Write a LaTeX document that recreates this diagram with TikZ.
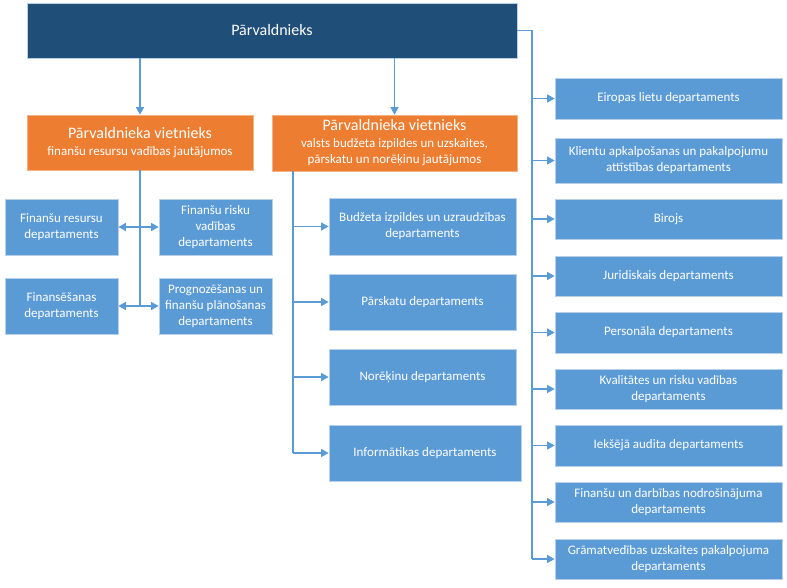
\documentclass[tikz,border=0pt]{standalone}
\usepackage{fontspec}
\setmainfont{Carlito}
\usetikzlibrary{arrows.meta}
\definecolor{dblue}{HTML}{1F4E79}
\definecolor{orng}{HTML}{ED7D31}
\definecolor{mblue}{HTML}{5B9BD5}
\definecolor{bedge}{HTML}{B9D0EA}
\definecolor{oedge}{HTML}{F4B183}
\tikzset{
  box/.style={rectangle, draw=bedge, line width=0.7pt, fill=mblue, text=white,
    align=center, inner sep=2pt, font=\fontsize{13}{16}\selectfont},
  obox/.style={box, fill=orng, draw=oedge, font=\fontsize{13}{16.5}\selectfont},
  tbox/.style={box, fill=dblue, draw=bedge, font=\fontsize{16}{18}\selectfont},
  conn/.style={draw=mblue, line width=1.3pt},
  arr/.style={conn, -{Triangle[length=7.5pt,width=8pt]}},
  darr/.style={conn, {Triangle[length=7.5pt,width=8pt]}-{Triangle[length=7.5pt,width=8pt]}}
}
\newcommand{\headfont}{\fontsize{16}{18}\selectfont}
\begin{document}
\begin{tikzpicture}[x=1pt,y=-1pt]
\useasboundingbox (0,0) rectangle (787,587);
% top
\node[tbox, minimum width=490pt, minimum height=55pt] (top) at (272,30.5) {Pārvaldnieks};
% deputies
\node[obox, minimum width=226pt, minimum height=55pt] (dl) at (140,142.5)
  {{\headfont Pārvaldnieka vietnieks}\\finanšu resursu vadības jautājumos};
\node[obox, minimum width=245pt, minimum height=56pt] (dm) at (394.5,143)
  {{\headfont Pārvaldnieka vietnieks}\\valsts budžeta izpildes un uzskaites,\\pārskatu un norēķinu jautājumos};
% left subordinate boxes
\node[box, minimum width=113pt, minimum height=56pt] (l1) at (61.5,227) {Finanšu resursu\\departaments};
\node[box, minimum width=113pt, minimum height=56pt] (r1) at (215.5,227) {Finanšu risku\\vadības\\departaments};
\node[box, minimum width=113pt, minimum height=56pt] (l2) at (61.5,306) {Finansēšanas\\departaments};
\node[box, minimum width=113pt, minimum height=56pt] (r2) at (215.5,306) {Prognozēšanas un\\finanšu plānošanas\\departaments};
% middle boxes
\node[box, minimum width=187pt, minimum height=57pt] (m1) at (422.5,226.5) {Budžeta izpildes un uzraudzības\\departaments};
\node[box, minimum width=187pt, minimum height=56pt] (m2) at (422.5,302) {Pārskatu departaments};
\node[box, minimum width=187pt, minimum height=56pt] (m3) at (422.5,377) {Norēķinu departaments};
\node[box, minimum width=192pt, minimum height=56pt] (m4) at (425,453) {Informātikas departaments};
% right boxes
\node[box, minimum width=227pt, minimum height=41pt] (k1) at (668.5,98.5) {Eiropas lietu departaments};
\node[box, minimum width=227pt, minimum height=45pt] (k2) at (668.5,160.5) {Klientu apkalpošanas un pakalpojumu\\attīstības departaments};
\node[box, minimum width=227pt, minimum height=40pt] (k3) at (668.5,219) {Birojs};
\node[box, minimum width=227pt, minimum height=40pt] (k4) at (668.5,276) {Juridiskais departaments};
\node[box, minimum width=227pt, minimum height=41pt] (k5) at (668.5,332.5) {Personāla departaments};
\node[box, minimum width=227pt, minimum height=40pt] (k6) at (668.5,389) {Kvalitātes un risku vadības\\departaments};
\node[box, minimum width=227pt, minimum height=41pt] (k7) at (668.5,445.5) {Iekšējā audita departaments};
\node[box, minimum width=227pt, minimum height=40pt] (k8) at (668.5,502) {Finanšu un darbības nodrošinājuma\\departaments};
\node[box, minimum width=227pt, minimum height=40pt] (k9) at (668.5,559) {Grāmatvedības uzskaites pakalpojuma\\departaments};
% coordinates
\coordinate (mspine) at (293,0);
\coordinate (rspine) at (532,0);
\coordinate (lbot) at (140,306);
\coordinate (mbot) at (293,453);
% top to deputies
\draw[arr] (top.south -| dl.north) -- (dl.north);
\draw[arr] (top.south -| dm.north) -- (dm.north);
% left spine
\draw[conn] (dl.south) -- (lbot);
\draw[darr] (l1.east) -- (r1.west);
\draw[darr] (l2.east) -- (r2.west);
% middle spine
\draw[conn] (dm.south -| mspine) -- (mbot);
\foreach \b in {m1,m2,m3,m4} \draw[arr] (mspine |- \b.west) -- (\b.west);
% right spine
\draw[conn] (top.east) -- (rspine |- top.east) -- (rspine |- k9.west);
\foreach \b in {k1,k2,k3,k4,k5,k6,k7,k8,k9} \draw[arr] (rspine |- \b.west) -- (\b.west);
\end{tikzpicture}
\end{document}
